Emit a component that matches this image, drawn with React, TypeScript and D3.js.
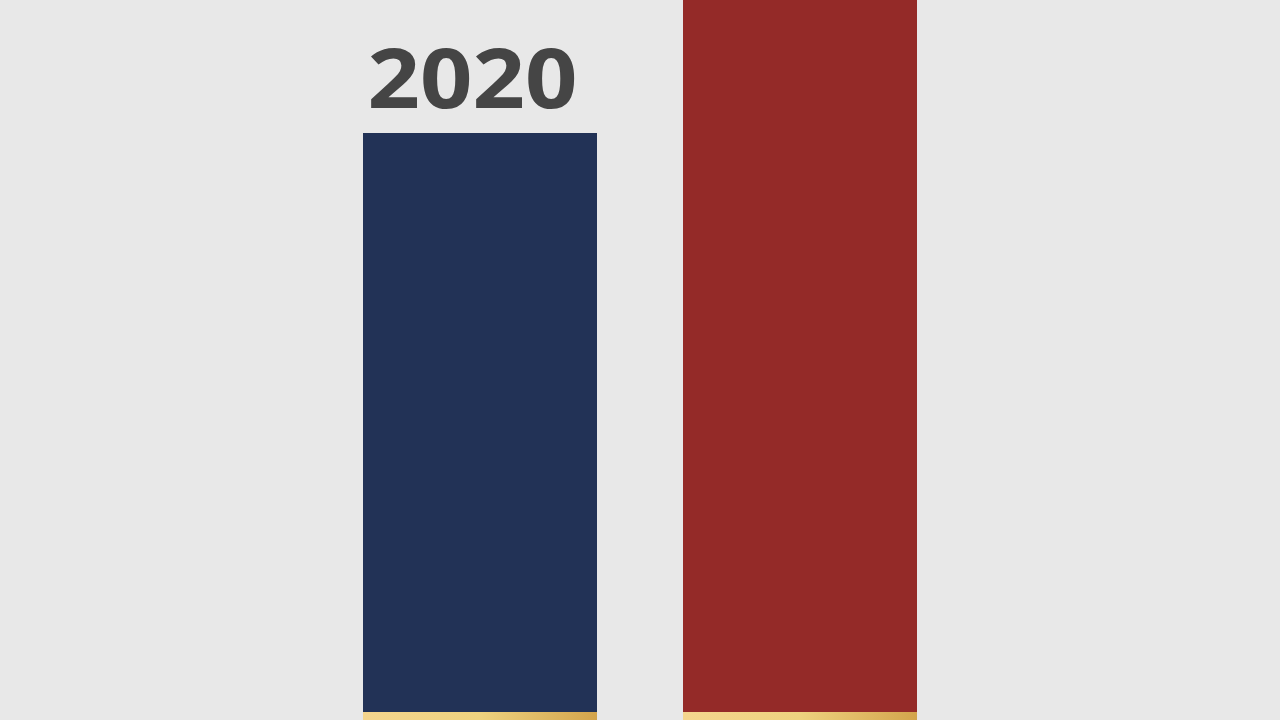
import React from "react";
import * as d3 from "d3";

const categories = ["2020", "2024"];
const values = [80, 100];
const colors = ["#223256", "#942a28"];
const titleLabel = "2020";

const W = 1280;
const H = 720;
const baseY = 712;

export default function App() {
  const x = d3.scaleBand<string>().domain(categories).range([363, 917]).paddingInner(0.26875);
  const y = d3.scaleLinear().domain([0, 80]).range([baseY, 133]);
  const cx = 472.5;

  return (
    <div style={{ position: "fixed", left: 0, top: 0, width: W, height: H }}>
      <svg width={W} height={H} style={{ display: "block" }}>
        <defs>
          <linearGradient id="gold" x1="0" x2="1" y1="0" y2="0">
            <stop offset="0%" stopColor="#f4d58e" />
            <stop offset="50%" stopColor="#eed27f" />
            <stop offset="100%" stopColor="#d3a44c" />
          </linearGradient>
        </defs>
        <rect x={0} y={0} width={W} height={H} fill="#e8e8e8" />
        {categories.map((c, i) => {
          const bx = x(c) as number;
          const bw = x.bandwidth();
          const top = y(values[i]);
          return (
            <g key={c}>
              <rect x={bx} y={top} width={bw} height={baseY - top} fill={colors[i]} />
              <rect x={bx} y={baseY} width={bw} height={H - baseY + 2} fill="url(#gold)" />
            </g>
          );
        })}
        <g transform={`translate(${cx},108) scale(1.12,1)`}>
          <text
            x={0}
            y={0}
            textAnchor="middle"
            fontFamily="'Open Sans', 'Noto Sans', sans-serif"
            fontWeight={700}
            fontSize={82}
            fill="#454545"
          >
            {titleLabel}
          </text>
        </g>
      </svg>
    </div>
  );
}
